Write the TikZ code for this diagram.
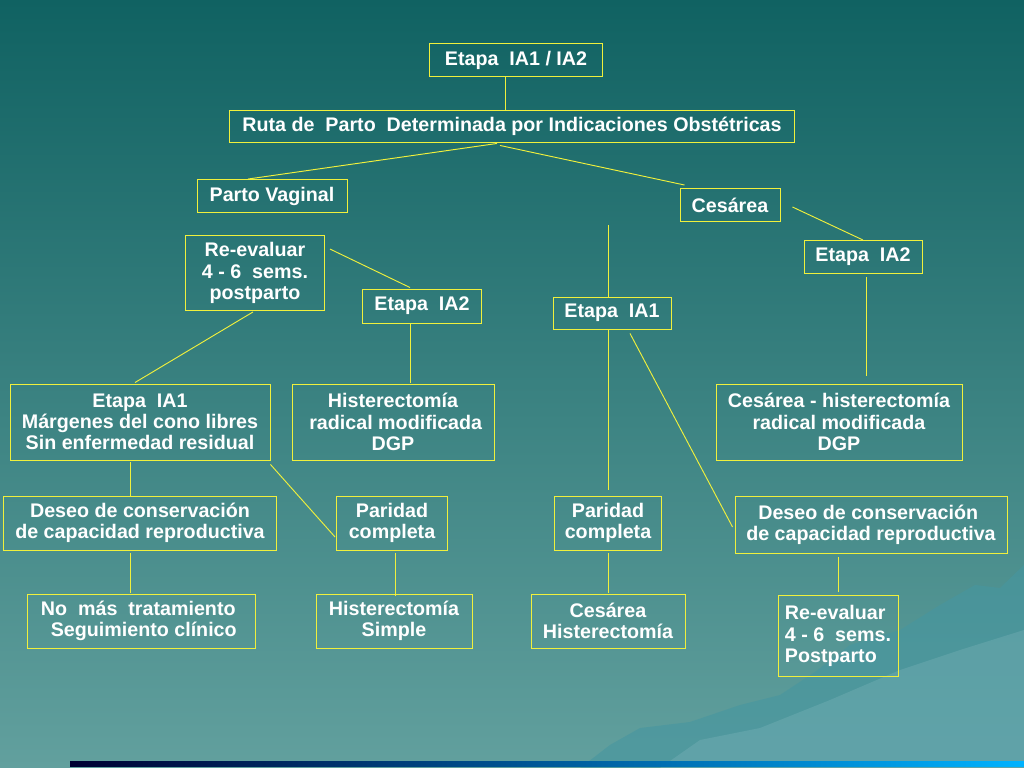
\documentclass[tikz,border=0pt]{standalone}
\usepackage{fontspec}
\setmainfont{Liberation Sans}
\usetikzlibrary{calc}
\definecolor{bgtop}{RGB}{16,98,98}
\definecolor{bgbot}{RGB}{98,160,158}
\definecolor{hill}{RGB}{70,150,160}
\definecolor{boxline}{RGB}{240,240,60}
\tikzset{
  box/.style 2 args={draw=boxline, thick, text=white, align=center, inner sep=2pt,
    font=\bfseries\fontsize{16.8}{18.2}\selectfont,
    minimum width=#1*0.03cm, minimum height=#2*0.03cm},
  link/.style={boxline, thick}
}
\begin{document}
\begin{tikzpicture}[x=0.03cm,y=-0.03cm]

  % background
  \shade[top color=bgtop, bottom color=bgbot] (0,0) rectangle (1024,768);
  \useasboundingbox (0,0) rectangle (1024,768);
  \fill[hill, opacity=0.6] (580,768) -- (610,745) -- (640,728) -- (690,722) -- (740,705) -- (780,695)
    -- (815,672) -- (850,645) -- (900,630) -- (940,605) -- (975,585) -- (1000,588) -- (1024,565)
    -- (1024,768) -- cycle;
  \fill[hill!60!white, opacity=0.25] (660,768) -- (700,740) -- (760,728) -- (830,700) -- (900,670)
    -- (960,650) -- (1024,630) -- (1024,768) -- cycle;
  \shade[left color=black!80!blue, right color=blue!30!cyan] (70,761) rectangle (1024,766);

  % boxes
  \node[box={173}{33}] (top) at (516,60) {Etapa\ \ IA1 / IA2};
  \node[box={565}{32}] (ruta) at (512,126) {Ruta de\ \ Parto\ \ Determinada por Indicaciones Obstétricas};
  \node[box={150}{33}] (pv) at (272,196) {Parto Vaginal};
  \node[box={100}{33}] (ces) at (730,205) {Cesárea};
  \node[box={139}{75}] (reev) at (255,273) {Re-evaluar\\4 - 6\ \ sems.\ \\postparto};
  \node[box={119}{34}] (iaa) at (422,306) {Etapa\ \ IA2};
  \node[box={118}{33}] (iab) at (863,257) {Etapa\ \ IA2};
  \node[box={118}{32}] (ia1) at (612,313) {Etapa\ \ IA1};
  \node[box={260}{76}] (marg) at (140,422) {Etapa\ \ IA1\\Márgenes del cono libres\\Sin enfermedad residual};
  \node[box={202}{76}] (hrad) at (393,422) {Histerectomía\\\ radical modificada\\DGP};
  \node[box={246}{76}] (chrad) at (839,422) {Cesárea - histerectomía\\radical modificada\\DGP};
  \node[box={273}{54}] (desa) at (140,523) {Deseo de conservación\\de capacidad reproductiva};
  \node[box={111}{54}] (para) at (392,523) {Paridad\\completa};
  \node[box={107}{54}] (parb) at (608,523) {Paridad\\completa};
  \node[box={272}{57}] (desb) at (871,525) {Deseo de conservación\ \ \\de capacidad reproductiva};
  \node[box={228}{54}] (nomas) at (141,621) {No\ \ más\ \ tratamiento\ \ \\\ Seguimiento clínico};
  \node[box={156}{54}] (hsim) at (394,621) {Histerectomía\\Simple};
  \node[box={154}{54}] (chis) at (608,621) {Cesárea\\Histerectomía};
  \node[box={120}{81}, align=left] (reevb) at (838,636) {Re-evaluar\\4 - 6\ \ sems.\\Postparto};

  % free ends
  \coordinate (cesfoot) at (608,225);

  % connectors
  \draw[link] ($(top.south)+(-11,0)$) -- ($(ruta.north)+(-7,0)$);
  \draw[link] ($(ruta.south)+(-15,1)$) -- ($(pv.north)+(-24,0)$);
  \draw[link] ($(ruta.south)+(-12,3)$) -- ($(ces.north west)+(5,-3)$);
  \draw[link] ($(ces.east)+(12,2)$) -- (iab.north);
  \draw[link] (cesfoot) -- ($(ia1.north)+(-4,0)$);
  \draw[link] ($(reev.north east)+(5,14)$) -- ($(iaa.north)+(-12,-1)$);
  \draw[link] ($(reev.south)+(-2,1)$) -- ($(marg.north)+(-5,-1)$);
  \draw[link] ($(iaa.south)+(-12,1)$) -- ($(hrad.north)+(17,-1)$);
  \draw[link] ($(iab.south)+(3,3)$) -- ($(chrad.north)+(27,-8)$);
  \draw[link] ($(ia1.south)+(-4,0)$) -- ($(parb.north)+(0,-6)$);
  \draw[link] ($(ia1.south)+(18,4)$) -- ($(desb.west)+(-2,2)$);
  \draw[link] ($(marg.south)+(-10,2)$) -- ($(desa.north)+(-10,0)$);
  \draw[link] ($(marg.south east)+(0,4)$) -- ($(para.west)+(-1,14)$);
  \draw[link] ($(desa.south)+(-10,3)$) -- ($(nomas.north)+(-11,-1)$);
  \draw[link] ($(para.south)+(3,3)$) -- ($(hsim.north)+(1,2)$);
  \draw[link] ($(parb.south)+(0,3)$) -- ($(chis.north)+(0,-1)$);
  \draw[link] ($(desb.south)+(-33,3)$) -- ($(reevb.north)+(0,-3)$);

\end{tikzpicture}
\end{document}
